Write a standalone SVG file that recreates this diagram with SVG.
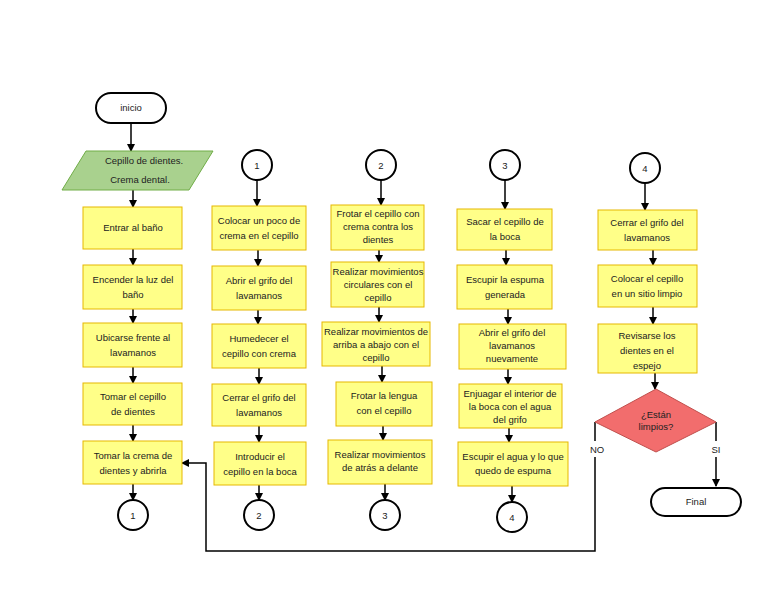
<svg xmlns="http://www.w3.org/2000/svg" width="768" height="594" viewBox="0 0 768 594">
<defs>
<marker id="ah" markerWidth="8" markerHeight="8" refX="7" refY="4" orient="auto" markerUnits="userSpaceOnUse"><path d="M0,0 L8,4 L0,8 Z" fill="#000"/></marker>
<style>
.b{fill:#ffff88;stroke:#e6b800;stroke-width:1}
.t{font-family:"Liberation Sans",Arial,sans-serif;font-size:9.5px;fill:#222;text-anchor:middle}
.c{fill:#fff;stroke:#000;stroke-width:2}
.l{stroke:#000;stroke-width:1.5;fill:none;marker-end:url(#ah)}
</style>
</defs>
<rect width="768" height="594" fill="#fff"/>
<g id="connectors">
<path class="l" d="M131,123 V151"/>
<path class="l" d="M133,190 V207"/>
<path class="l" d="M133,249 V265"/>
<path class="l" d="M133,309 V323"/>
<path class="l" d="M133,367 V383"/>
<path class="l" d="M133,425 V441"/>
<path class="l" d="M133,484 V500"/>
<path class="l" d="M257,180 V206"/>
<path class="l" d="M258,250 V266"/>
<path class="l" d="M258,310 V324"/>
<path class="l" d="M259,368 V384"/>
<path class="l" d="M259,426 V442"/>
<path class="l" d="M259,485 V500"/>
<path class="l" d="M381,180 V205"/>
<path class="l" d="M379,250 V262"/>
<path class="l" d="M379,307 V322"/>
<path class="l" d="M382,366 V382"/>
<path class="l" d="M383,426 V440"/>
<path class="l" d="M385,484 V500"/>
<path class="l" d="M505,180 V209"/>
<path class="l" d="M506,250 V265"/>
<path class="l" d="M508,309 V324"/>
<path class="l" d="M508,369 V384"/>
<path class="l" d="M509,428 V442"/>
<path class="l" d="M512,486 V502"/>
<path class="l" d="M645,183 V210"/>
<path class="l" d="M653,250 V265"/>
<path class="l" d="M653,307 V324"/>
<path class="l" d="M655,373 V389"/>
<path class="l" d="M716,422 V441 M716,457 V486"/>
<path class="l" d="M595,422 V441 M595,457 V551 H206 V463 H182"/>
<text class="t" x="597" y="453">NO</text>
<text class="t" x="716" y="453">SI</text>
</g>
<g id="inicio"><rect x="96" y="93" width="70" height="30" rx="15" class="c"/><text class="t" x="131" y="111">inicio</text></g>
<g id="datos"><polygon points="62,190 86,151 213,151 189,190" fill="#a9d18e" stroke="#70ad47"/><text class="t" x="144" y="164" font-size="8">Cepillo de dientes.</text><text class="t" x="140" y="183" font-size="8">Crema dental.</text></g>
<g id="n1"><rect class="b" x="83" y="207" width="99" height="42"/><text class="t" x="133" y="231">Entrar al baño</text></g>
<g id="n2"><rect class="b" x="83" y="265" width="99" height="44"/><text class="t" x="133" y="283">Encender la luz del</text><text class="t" x="133" y="298">baño</text></g>
<g id="n3"><rect class="b" x="83" y="323" width="99" height="44"/><text class="t" x="133" y="341">Ubicarse frente al</text><text class="t" x="133" y="356">lavamanos</text></g>
<g id="n4"><rect class="b" x="83" y="383" width="99" height="42"/><text class="t" x="133" y="400">Tomar el cepillo</text><text class="t" x="133" y="415">de dientes</text></g>
<g id="n5"><rect class="b" x="83" y="441" width="99" height="43"/><text class="t" x="133" y="459" font-size="8.5">Tomar la crema de</text><text class="t" x="133" y="474" font-size="8.5">dientes y abrirla</text></g>
<g id="c1a"><circle class="c" cx="133" cy="515" r="15"/><text class="t" x="133" y="519">1</text></g>
<g id="c1b"><circle class="c" cx="257" cy="165" r="15"/><text class="t" x="257" y="169">1</text></g>
<g id="m1"><rect class="b" x="212" y="206" width="94" height="44"/><text class="t" x="259" y="224" font-size="8.5">Colocar un poco de</text><text class="t" x="259" y="239" font-size="8.5">crema en el cepillo</text></g>
<g id="m2"><rect class="b" x="212" y="266" width="94" height="44"/><text class="t" x="259" y="284">Abrir el grifo del</text><text class="t" x="259" y="299">lavamanos</text></g>
<g id="m3"><rect class="b" x="212" y="324" width="94" height="44"/><text class="t" x="259" y="342">Humedecer el</text><text class="t" x="259" y="357">cepillo con crema</text></g>
<g id="m4"><rect class="b" x="212" y="384" width="94" height="42"/><text class="t" x="259" y="401">Cerrar el grifo del</text><text class="t" x="259" y="416">lavamanos</text></g>
<g id="m5"><rect class="b" x="214" y="442" width="92" height="43"/><text class="t" x="260" y="460">Introducir el</text><text class="t" x="260" y="475">cepillo en la boca</text></g>
<g id="c2a"><circle class="c" cx="259" cy="515" r="15"/><text class="t" x="259" y="519">2</text></g>
<g id="c2b"><circle class="c" cx="381" cy="165" r="15"/><text class="t" x="381" y="169">2</text></g>
<g id="p1"><rect class="b" x="331" y="205" width="93" height="45"/><text class="t" x="378" y="217" font-size="8.5">Frotar el cepillo con</text><text class="t" x="378" y="230" font-size="8.5">crema contra los</text><text class="t" x="378" y="243" font-size="8.5">dientes</text></g>
<g id="p2"><rect class="b" x="331" y="262" width="93" height="45"/><text class="t" x="378" y="275" font-size="8.5">Realizar movimientos</text><text class="t" x="378" y="288" font-size="8.5">circulares con el</text><text class="t" x="378" y="301" font-size="8.5">cepillo</text></g>
<g id="p3"><rect class="b" x="322" y="322" width="108" height="44"/><text class="t" x="376" y="335" font-size="8.5">Realizar movimientos de</text><text class="t" x="376" y="348" font-size="8.5">arriba a abajo con el</text><text class="t" x="376" y="361" font-size="8.5">cepillo</text></g>
<g id="p4"><rect class="b" x="336" y="382" width="96" height="44"/><text class="t" x="384" y="399">Frotar la lengua</text><text class="t" x="384" y="414">con el cepillo</text></g>
<g id="p5"><rect class="b" x="328" y="440" width="104" height="44"/><text class="t" x="380" y="458" font-size="8.5">Realizar movimientos</text><text class="t" x="380" y="471" font-size="8.5">de atrás a delante</text></g>
<g id="c3a"><circle class="c" cx="385" cy="515" r="15"/><text class="t" x="385" y="519">3</text></g>
<g id="c3b"><circle class="c" cx="505" cy="165" r="15"/><text class="t" x="505" y="169">3</text></g>
<g id="q1"><rect class="b" x="457" y="209" width="95" height="41"/><text class="t" x="505" y="225">Sacar el cepillo de</text><text class="t" x="505" y="240">la boca</text></g>
<g id="q2"><rect class="b" x="457" y="265" width="95" height="44"/><text class="t" x="505" y="283">Escupir la espuma</text><text class="t" x="505" y="298">generada</text></g>
<g id="q3"><rect class="b" x="459" y="324" width="107" height="45"/><text class="t" x="512" y="336" font-size="8.5">Abrir el grifo del</text><text class="t" x="512" y="349" font-size="8.5">lavamanos</text><text class="t" x="512" y="362" font-size="8.5">nuevamente</text></g>
<g id="q4"><rect class="b" x="459" y="384" width="103" height="44"/><text class="t" x="510" y="397" font-size="8.5">Enjuagar el interior de</text><text class="t" x="510" y="410" font-size="8.5">la boca con el agua</text><text class="t" x="510" y="423" font-size="8.5">del grifo</text></g>
<g id="q5"><rect class="b" x="458" y="442" width="110" height="44"/><text class="t" x="513" y="460" font-size="8.5">Escupir el agua y lo que</text><text class="t" x="513" y="474" font-size="8.5">quedo de espuma</text></g>
<g id="c4a"><circle class="c" cx="512" cy="517" r="15"/><text class="t" x="512" y="521">4</text></g>
<g id="c4b"><circle class="c" cx="645" cy="168" r="15"/><text class="t" x="645" y="172">4</text></g>
<g id="r1"><rect class="b" x="598" y="210" width="99" height="40"/><text class="t" x="647" y="226">Cerrar el grifo del</text><text class="t" x="647" y="241">lavamanos</text></g>
<g id="r2"><rect class="b" x="598" y="265" width="99" height="42"/><text class="t" x="647" y="282">Colocar el cepillo</text><text class="t" x="647" y="297">en un sitio limpio</text></g>
<g id="r3"><rect class="b" x="598" y="324" width="99" height="49"/><text class="t" x="647" y="339">Revisarse los</text><text class="t" x="647" y="354">dientes en el</text><text class="t" x="647" y="369">espejo</text></g>
<g id="decision"><polygon points="656,389 716,422 656,452 595,422" fill="#f26d6d" stroke="#c0504d"/><text class="t" x="656" y="418" font-size="8.5">¿Están</text><text class="t" x="656" y="430" font-size="8.5">limpios?</text></g>
<g id="final"><rect x="651" y="488" width="90" height="28" rx="14" class="c"/><text class="t" x="696" y="505">Final</text></g>
</svg>
